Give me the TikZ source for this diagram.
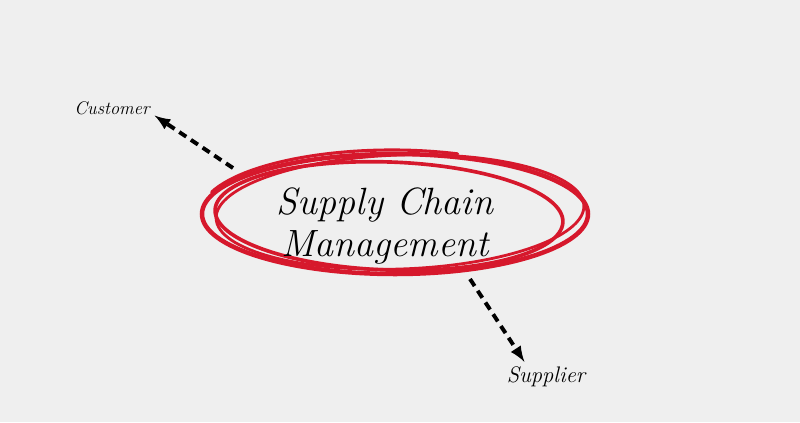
\documentclass[tikz,border=0pt]{standalone}
\usepackage{tikz}
\usetikzlibrary{arrows,positioning}
\definecolor{bgcol}{RGB}{239,239,239}
\definecolor{scmred}{RGB}{214,24,44}
\tikzset{font=\itshape}
\tikzset{scmline/.style={draw=scmred,line width=3.2pt,line cap=round}}
\tikzset{dasharrow/.style={-latex,line width=2.8pt,dash pattern=on 6pt off 4pt}}

\begin{document}
\begin{tikzpicture}[x=0.025cm,y=-0.025cm]
  \fill[bgcol] (0,0) rectangle (800,422);
  \useasboundingbox (0,0) rectangle (800,422);

  % red scribble round the title
  \draw[scmline] (395,214) ellipse [x radius=193,y radius=60];
  \draw[scmline,line width=2.6pt] (389,216) ellipse [x radius=174,y radius=54,rotate=-2];
  \draw[scmline,line width=2pt] (400,212) ellipse [x radius=184,y radius=57,rotate=2];
  \draw[scmline,line width=2.2pt] (392,214) ++(200:192 and 64)
        arc[start angle=200,end angle=290,x radius=192,y radius=64];

  \node[align=center,font=\fontsize{27}{30}\selectfont\itshape] (scm) at (385,226)
        {Supply Chain\\Management};
  \node[font=\fontsize{13}{15}\selectfont\itshape] (cust) at (112,108) {Customer};
  \node[font=\fontsize{16}{18}\selectfont\itshape] (supp) at (546,377) {Supplier};

  \coordinate (c1) at (233,168);
  \coordinate (s1) at (470,279);
  \draw[dasharrow] (c1) -- (cust.-10);
  \draw[dasharrow] (s1) -- (supp.145);
\end{tikzpicture}
\end{document}
